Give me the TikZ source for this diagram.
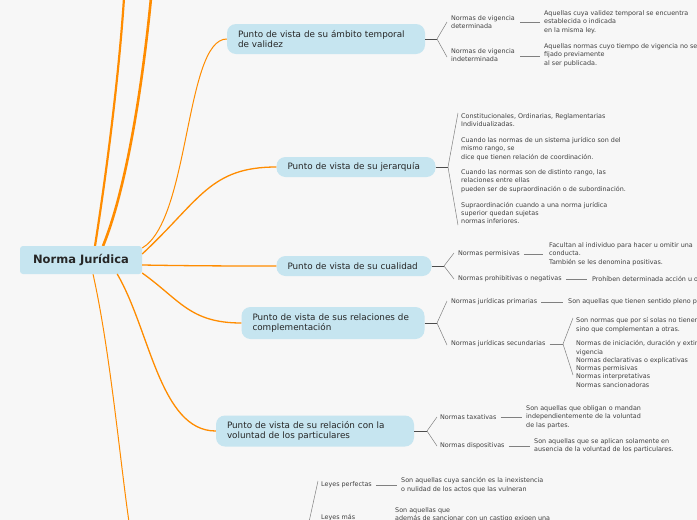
\documentclass[tikz,border=0pt]{standalone}
\usepackage{fontspec}
\setmainfont{DejaVu Sans}
\begin{document}
\begin{tikzpicture}[x=1pt,y=-1pt,
  txt/.style={anchor=west,align=left,inner sep=0pt,text=black!75,font=\fontsize{6.4}{8.3}\selectfont},
  topic/.style={fill=boxc,rounded corners=9pt,text=black!85,font=\fontsize{8.8}{10.5}\selectfont,align=left,inner sep=0pt},
  br/.style={draw=orange!90!yellow,line width=1pt},
  gl/.style={draw=black!50,line width=0.5pt},
  fk/.style={draw=black!70,line width=1pt}]
\definecolor{boxc}{HTML}{C6E5F0}
\useasboundingbox (0,0) rectangle (697,520);
\clip (0,0) rectangle (697,520);
\fill[black!3] (0,0) rectangle (697,520);
% off-canvas branches
\draw[br,line width=2.2pt] (95,246) .. controls (110,150) and (120,60) .. (124,-2);
\draw[br,line width=2.6pt] (103,246) .. controls (130,180) and (145,60) .. (151,-2);
\draw[br,line width=1pt] (93,274) .. controls (110,350) and (120,460) .. (129,522);
% nodes
\node[fill=boxc,rounded corners=3pt,minimum width=122pt,minimum height=28pt,font=\fontsize{11.5}{13}\selectfont\bfseries,text=black!85] (root) at (81,260) {Norma Jurídica};
\node[topic,minimum width=198pt,minimum height=30pt,text width=176pt] (b1) at (326,39) {Punto de vista de su ámbito temporal\\de validez};
\node[topic,minimum width=159pt,minimum height=20pt,text width=137pt] (b2) at (356,167) {Punto de vista de su jerarquía};
\node[topic,minimum width=155pt,minimum height=20pt,text width=133pt] (b3) at (354,266) {Punto de vista de su cualidad};
\node[topic,minimum width=183pt,minimum height=32pt,text width=161pt] (b4) at (333,323) {Punto de vista de sus relaciones de\\complementación};
\node[topic,minimum width=198pt,minimum height=31pt,text width=176pt] (b5) at (315,431) {Punto de vista de su relación con la\\voluntad de los particulares};
% orange connectors
\draw[br] (root.east) ++(0,-12) .. controls (190,220) and (185,39) .. (b1.west);
\draw[br,line width=1.3pt] (root.east) ++(0,-6) .. controls (200,200) and (210,167) .. (b2.west);
\draw[br,line width=1.3pt] (root.east) ++(0,5) .. controls (200,266) and (240,266) .. (b3.west);
\draw[br,line width=1.3pt] (root.east) ++(0,13) .. controls (180,300) and (190,323) .. (b4.west);
\draw[br,line width=1.3pt] (root.east) ++(-25,14) .. controls (150,330) and (160,431) .. (b5.west);
% B1
\coordinate (f1) at (437,39);
\draw[fk] (b1.east) -- (f1);
\node[txt] (c11) at (451,22) {Normas de vigencia\\determinada};
\node[txt] (c12) at (451,55) {Normas de vigencia\\indeterminada};
\draw[gl] (f1) -- (447,22); \draw[gl] (f1) -- (447,57);
\node[txt] (l11) at (544,22) {Aquellas cuya validez temporal se encuentra\\establecida o indicada\\en la misma ley.};
\node[txt] (l12) at (544,55) {Aquellas normas cuyo tiempo de vigencia no se ha\\fijado previamente\\al ser publicada.};
\draw[gl] (520,22) -- (540,22); \draw[gl] (520,56) -- (540,56);
% B2
\coordinate (f2) at (448,167);
\draw[fk] (b2.east) -- (f2);
\draw[gl] (f2) -- (458,113); \draw[gl] (f2) -- (458,225);
\node[txt] at (461,120) {Constitucionales, Ordinarias, Reglamentarias\\Individualizadas.};
\node[txt] at (461,149) {Cuando las normas de un sistema jurídico son del\\mismo rango, se\\dice que tienen relación de coordinación.};
\node[txt] at (461,181) {Cuando las normas son de distinto rango, las\\relaciones entre ellas\\pueden ser de supraordinación o de subordinación.};
\node[txt] at (461,213) {Supraordinación cuando a una norma jurídica\\superior quedan sujetas\\normas inferiores.};
% B3
\coordinate (f3) at (444,266);
\draw[fk] (b3.east) -- (f3);
\draw[gl] (f3) -- (454,253); \draw[gl] (f3) -- (454,279);
\node[txt] (c31) at (458,254) {Normas permisivas};
\node[txt] (c32) at (458,279) {Normas prohibitivas o negativas};
\node[txt] (l31) at (549,254) {Facultan al individuo para hacer u omitir una\\conducta.\\También se les denomina positivas.};
\node[txt] (l32) at (592,279) {Prohíben determinada acción u omisión.};
\draw[gl] (c31.east)++(4,0) -- ([xshift=-6pt]l31.west); \draw[gl] (c32.east)++(4,0) -- ([xshift=-5pt]l32.west);
% B4
\coordinate (f4) at (437,323);
\draw[fk] (b4.east) -- (f4);
\draw[gl] (f4) -- (447,301); \draw[gl] (f4) -- (447,345);
\node[txt] (c41) at (451,302) {Normas jurídicas primarias};
\node[txt] (c42) at (451,344) {Normas jurídicas secundarias};
\node[txt] (l41) at (568,302) {Son aquellas que tienen sentido pleno por sí mismas.};
\draw[gl] (c41.east)++(4,0) -- ([xshift=-5pt]l41.west);
\coordinate (f42) at (563,344);
\draw[gl] (c42.east)++(4,0) -- (f42);
\draw[gl] (f42) -- (573,318); \draw[gl] (f42) -- (573,375);
\node[txt] at (576,325) {Son normas que por sí solas no tienen sentido,\\sino que complementan a otras.};
\node[txt] at (576,364) {Normas de iniciación, duración y extinción de la\\vigencia\\Normas declarativas o explicativas\\Normas permisivas\\Normas interpretativas\\Normas sancionadoras};
% B5
\coordinate (f5) at (427,431);
\draw[fk] (b5.east) -- (f5);
\draw[gl] (f5) -- (437,417); \draw[gl] (f5) -- (437,446);
\node[txt] (c51) at (440,417) {Normas taxativas};
\node[txt] (c52) at (440,446) {Normas dispositivas};
\node[txt] (l51) at (526,417) {Son aquellas que obligan o mandan\\independientemente de la voluntad\\de las partes.};
\node[txt] (l52) at (534,446) {Son aquellas que se aplican solamente en\\ausencia de la voluntad de los particulares.};
\draw[gl] (c51.east)++(4,0) -- ([xshift=-4pt]l51.west); \draw[gl] (c52.east)++(4,0) -- ([xshift=-4pt]l52.west);
% bottom branch
\draw[gl] (318,481) -- (309,522);
\node[txt] (c61) at (321,485) {Leyes perfectas};
\node[txt] (l61) at (401,485) {Son aquellas cuya sanción es la inexistencia\\o nulidad de los actos que las vulneran};
\draw[gl] (c61.east)++(4,0) -- ([xshift=-4pt]l61.west);
\node[txt] (c62) at (321,518) {Leyes más};
\node[txt] at (395,519) {Son aquellas que\\ además de sancionar con un castigo exigen una\\reparación};
\end{tikzpicture}
\end{document}
